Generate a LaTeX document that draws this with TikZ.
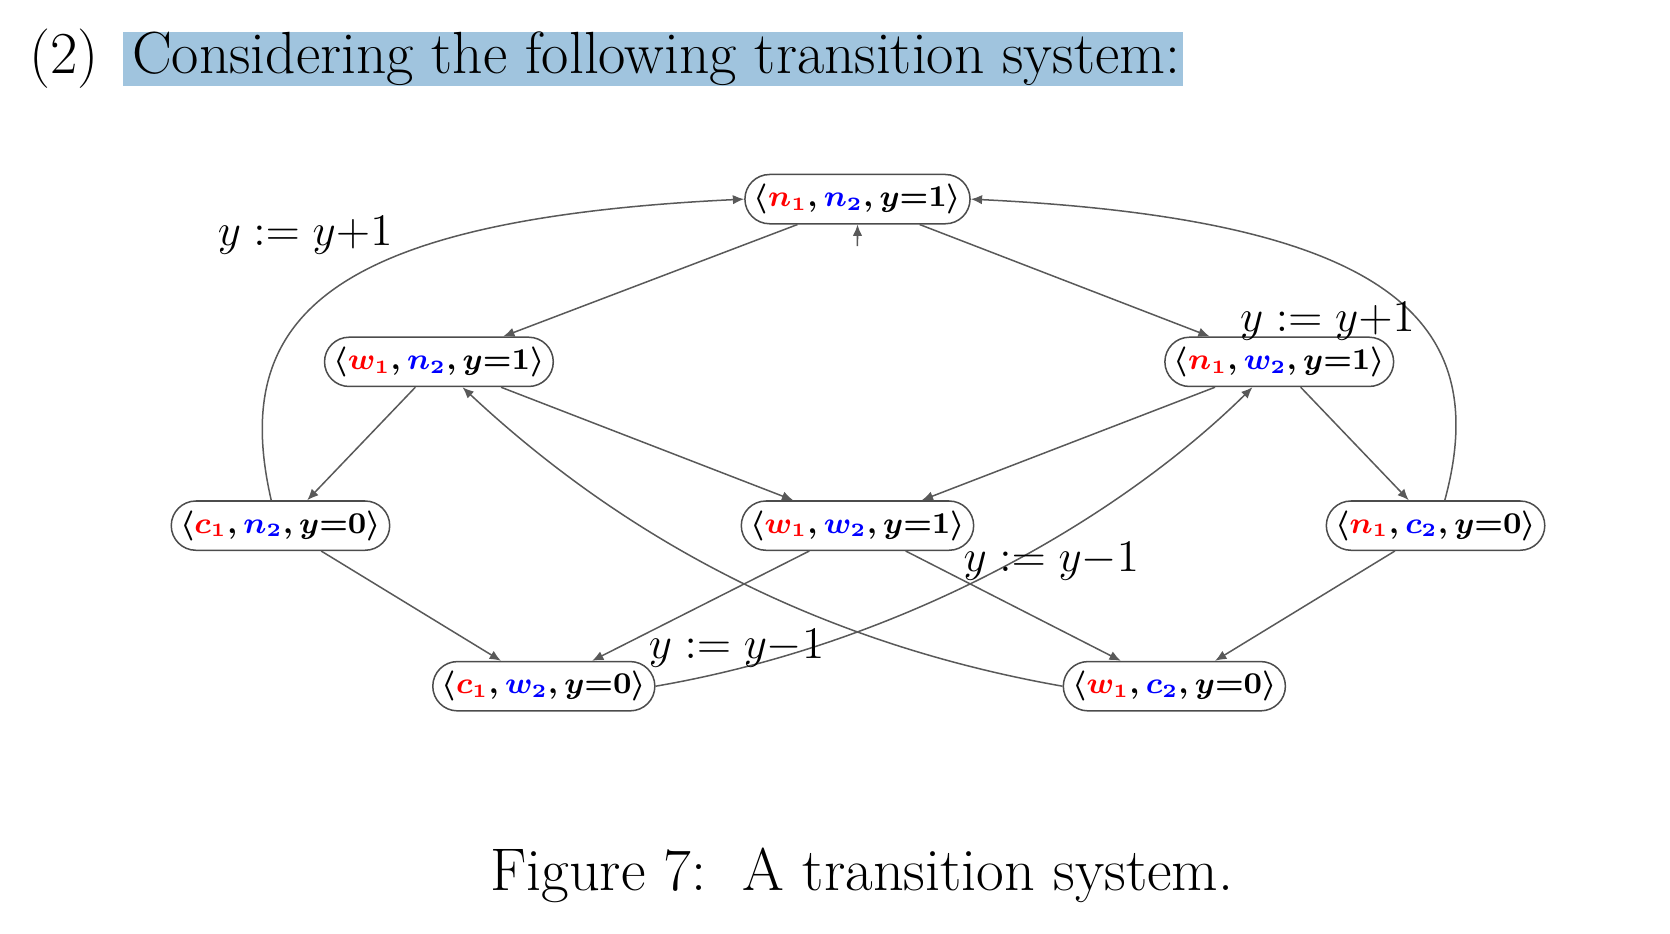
\documentclass[tikz,border=0pt]{standalone}
\usepackage{amsmath,amssymb}
\usetikzlibrary{shapes.misc,arrows.meta}
\definecolor{hl}{RGB}{160,196,222}
\newcommand{\st}[3]{$\boldsymbol{\langle #1, #2, y{=}#3\rangle}$}
\newcommand{\ra}[1]{\textcolor{red}{#1}}
\newcommand{\bl}[1]{\textcolor{blue}{#1}}
\tikzset{
  state/.style={draw=black!70,rounded rectangle,minimum width=1.95cm,minimum height=0.46cm,inner sep=1pt,font=\fontsize{7.8}{9}\selectfont},
  tr/.style={draw=black!65,line width=0.4pt,-{Latex[length=3pt,width=2.5pt]}},
  upd/.style={font=\fontsize{11.5}{13}\selectfont}
}
\begin{document}
\begin{tikzpicture}[x=0.01cm,y=-0.01cm]
  \useasboundingbox (0,0) rectangle (1560,872);

  % Heading
  \fill[hl] (115,30) rectangle (1105,80);
  \node[anchor=west,font=\fontsize{15.8}{19}\selectfont] (num) at (15,55) {(2)};
  \node[anchor=west,font=\fontsize{15.8}{19}\selectfont] (head) at (111,55) {Considering the following transition system:};

  % States
  \node[state] (nn) at (801,186) {\st{\ra{n_1}}{\bl{n_2}}{1}};
  \node[state] (wn) at (410,338) {\st{\ra{w_1}}{\bl{n_2}}{1}};
  \node[state] (nw) at (1195,338) {\st{\ra{n_1}}{\bl{w_2}}{1}};
  \node[state] (cn) at (262,491) {\st{\ra{c_1}}{\bl{n_2}}{0}};
  \node[state] (ww) at (801,491) {\st{\ra{w_1}}{\bl{w_2}}{1}};
  \node[state] (nc) at (1341,491) {\st{\ra{n_1}}{\bl{c_2}}{0}};
  \node[state] (cw) at (508,641) {\st{\ra{c_1}}{\bl{w_2}}{0}};
  \node[state] (wc) at (1097,641) {\st{\ra{w_1}}{\bl{c_2}}{0}};

  % Initial arrow
  \coordinate (init) at (801,230);
  \draw[tr] (init) -- (nn);

  % Straight transitions
  \draw[tr] ([xshift=-0.56cm]nn.south) -- ([xshift=0.6cm]wn.north);
  \draw[tr] ([xshift=0.58cm]nn.south) -- ([xshift=-0.65cm]nw.north);
  \draw[tr] ([xshift=-0.22cm]wn.south) -- ([xshift=0.25cm]cn.north);
  \draw[tr] ([xshift=0.58cm]wn.south) -- ([xshift=-0.6cm]ww.north);
  \draw[tr] ([xshift=-0.6cm]nw.south) -- ([xshift=0.6cm]ww.north);
  \draw[tr] ([xshift=0.2cm]nw.south) -- ([xshift=-0.25cm]nc.north);
  \draw[tr] ([xshift=0.38cm]cn.south) -- ([xshift=-0.4cm]cw.north);
  \draw[tr] ([xshift=-0.45cm]ww.south) -- ([xshift=0.45cm]cw.north);
  \draw[tr] ([xshift=0.45cm]ww.south) -- ([xshift=-0.5cm]wc.north);
  \draw[tr] ([xshift=-0.38cm]nc.south) -- ([xshift=0.38cm]wc.north);

  % Curved transitions
  \draw[tr] (cn.110) .. controls (215,300) and (300,205) .. (nn.west);
  \draw[tr] (nc.70) .. controls (1395,300) and (1300,205) .. (nn.east);
  \draw[tr] (cw.east) .. controls (850,600) and (1050,480) .. ([xshift=-0.25cm]nw.south);
  \draw[tr] (wc.west) .. controls (760,600) and (580,500) .. ([xshift=0.22cm]wn.south);

  % Updates
  \node[upd] (u1) at (285,220) {$y := y{+}1$};
  \node[upd] (u2) at (1240,300) {$y := y{+}1$};
  \node[upd] (u3) at (982,524) {$y := y{-}1$};
  \node[upd] (u4) at (688,606) {$y := y{-}1$};

  % Caption
  \node[font=\fontsize{16}{19}\selectfont] (cap) at (805,818) {Figure 7:\ \ A transition system.};
\end{tikzpicture}
\end{document}
